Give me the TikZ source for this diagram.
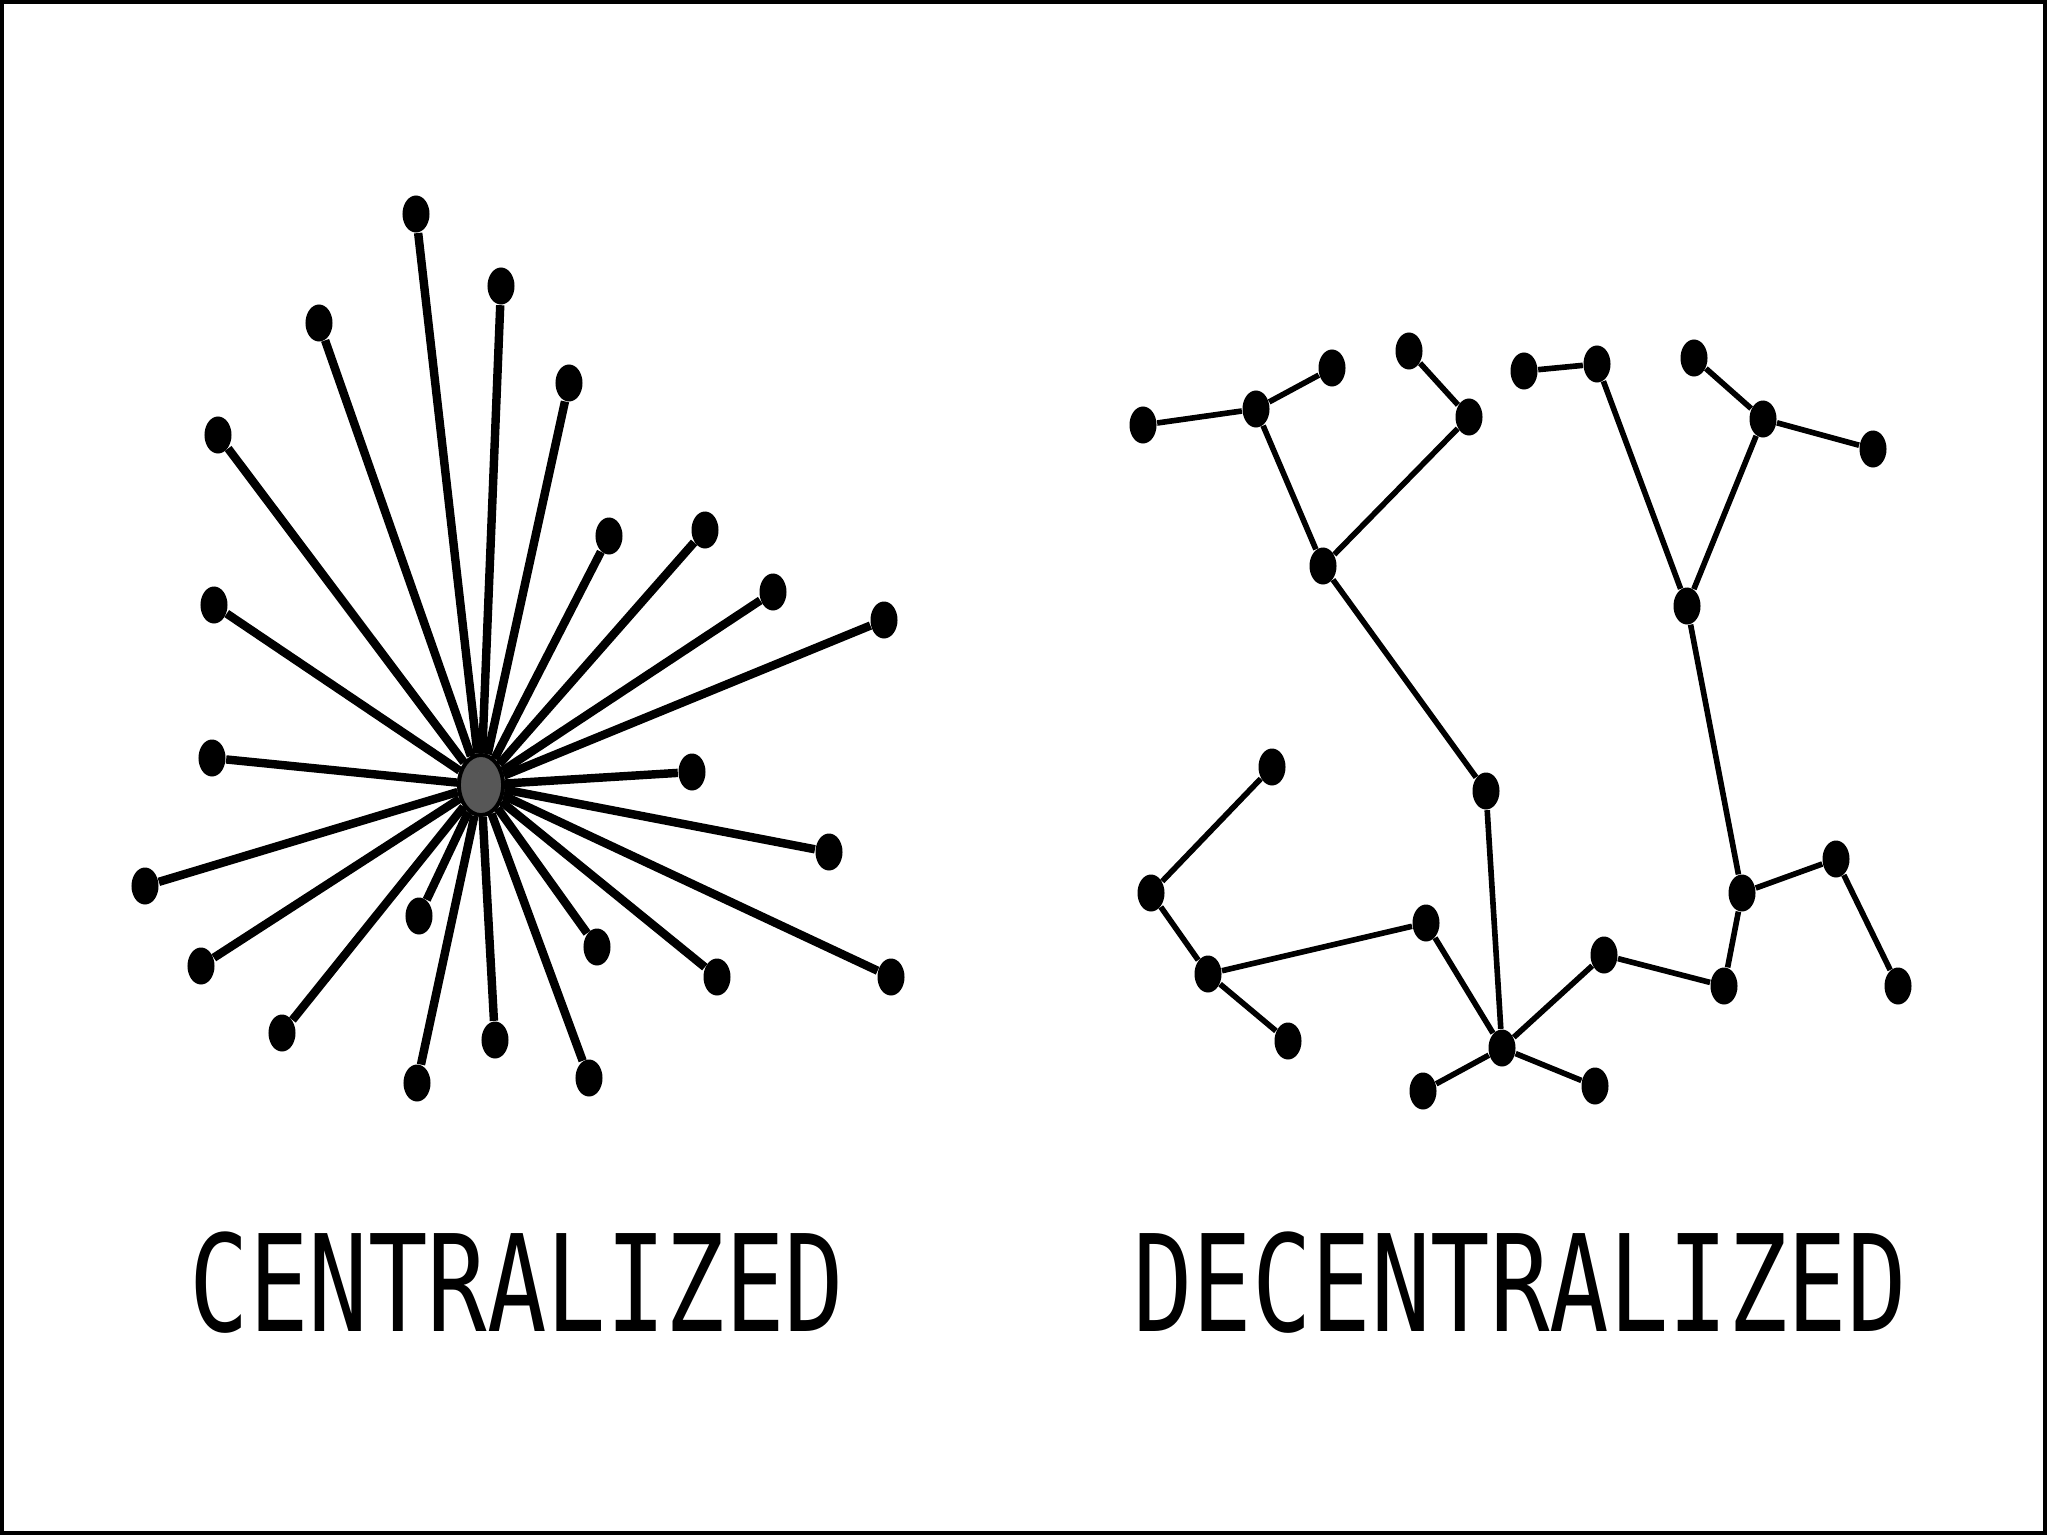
\documentclass[tikz,border=0pt]{standalone}
\usepackage{graphicx}
\usepackage{fontspec}
\newfontfamily\labelfont{DejaVu Sans Mono}
\usepackage{tikz}
\usetikzlibrary{shapes,arrows}
\usetikzlibrary{positioning}
\tikzstyle{peer} = [ellipse, fill=black, inner sep=0pt,
minimum width=0.27cm, minimum height=0.37cm]
\tikzstyle{spoke} = [draw, line width=2.4pt]
\tikzstyle{link} = [draw, line width=1.6pt]

\begin{document}
\begin{tikzpicture}[x=0.01cm, y=-0.01cm,
		server/.style={ellipse, draw=black, line width=1.1pt,
			fill=black!66, inner sep=0pt,
			minimum width=0.44cm, minimum height=0.6cm},
		caption/.style={inner sep=0pt, font=\labelfont\fontsize{38.2}{40}\selectfont}]
		\useasboundingbox (0,0) rectangle (2048,1536);
		\draw [line width=1.1pt] (2,2) rectangle (2045,1533);
		%% Centralized
		\node [server] (hub) at (481,785) {};
		\node [peer] (c1) at (416,214) {};
		\node [peer] (c2) at (501,286) {};
		\node [peer] (c3) at (319,323) {};
		\node [peer] (c4) at (569,383) {};
		\node [peer] (c5) at (218,435) {};
		\node [peer] (c6) at (609,536) {};
		\node [peer] (c7) at (705,530) {};
		\node [peer] (c8) at (214,605) {};
		\node [peer] (c9) at (773,592) {};
		\node [peer] (c10) at (884,620) {};
		\node [peer] (c11) at (212,758) {};
		\node [peer] (c12) at (692,772) {};
		\node [peer] (c13) at (145,886) {};
		\node [peer] (c14) at (829,852) {};
		\node [peer] (c15) at (201,966) {};
		\node [peer] (c16) at (419,916) {};
		\node [peer] (c17) at (597,947) {};
		\node [peer] (c18) at (717,977) {};
		\node [peer] (c19) at (891,977) {};
		\node [peer] (c20) at (282,1033) {};
		\node [peer] (c21) at (495,1040) {};
		\node [peer] (c22) at (417,1083) {};
		\node [peer] (c23) at (589,1078) {};
		\foreach \i in {1,...,23}
		\path [spoke] (hub) to (c\i);
		\node [server] at (hub) {};
		%% Decentralized
		\node [peer] (a) at (1143,425) {};
		\node [peer] (b) at (1256,409) {};
		\node [peer] (c) at (1332,368) {};
		\node [peer] (d) at (1409,351) {};
		\node [peer] (e) at (1469,417) {};
		\node [peer] (f) at (1323,566) {};
		\node [peer] (g) at (1486,791) {};
		\node [peer] (h) at (1272,767) {};
		\node [peer] (i) at (1151,893) {};
		\node [peer] (j) at (1208,974) {};
		\node [peer] (k) at (1288,1041) {};
		\node [peer] (l) at (1426,923) {};
		\node [peer] (m) at (1502,1048) {};
		\node [peer] (n) at (1423,1091) {};
		\node [peer] (o) at (1595,1086) {};
		\node [peer] (p) at (1604,955) {};
		\node [peer] (q) at (1724,986) {};
		\node [peer] (r) at (1742,893) {};
		\node [peer] (s) at (1836,859) {};
		\node [peer] (t) at (1898,986) {};
		\node [peer] (u) at (1687,606) {};
		\node [peer] (v) at (1597,364) {};
		\node [peer] (w) at (1524,371) {};
		\node [peer] (x) at (1694,358) {};
		\node [peer] (y) at (1763,419) {};
		\node [peer] (z) at (1873,449) {};
		%% Links
		\path [link] (a) to (b);
		\path [link] (b) to (c);
		\path [link] (b) to (f);
		\path [link] (d) to (e);
		\path [link] (e) to (f);
		\path [link] (f) to (g);
		\path [link] (g) to (m);
		\path [link] (h) to (i);
		\path [link] (i) to (j);
		\path [link] (j) to (k);
		\path [link] (j) to (l);
		\path [link] (l) to (m);
		\path [link] (m) to (n);
		\path [link] (m) to (o);
		\path [link] (m) to (p);
		\path [link] (p) to (q);
		\path [link] (q) to (r);
		\path [link] (r) to (s);
		\path [link] (s) to (t);
		\path [link] (r) to (u);
		\path [link] (u) to (v);
		\path [link] (v) to (w);
		\path [link] (u) to (y);
		\path [link] (x) to (y);
		\path [link] (y) to (z);
		%% Captions
		\node [caption] (central) at (517,1283) {\scalebox{0.736}[1]{CENTRALIZED}};
		\node [caption] (decentral) at (1520,1283) {\scalebox{0.736}[1]{DECENTRALIZED}};
\end{tikzpicture}
\end{document}
